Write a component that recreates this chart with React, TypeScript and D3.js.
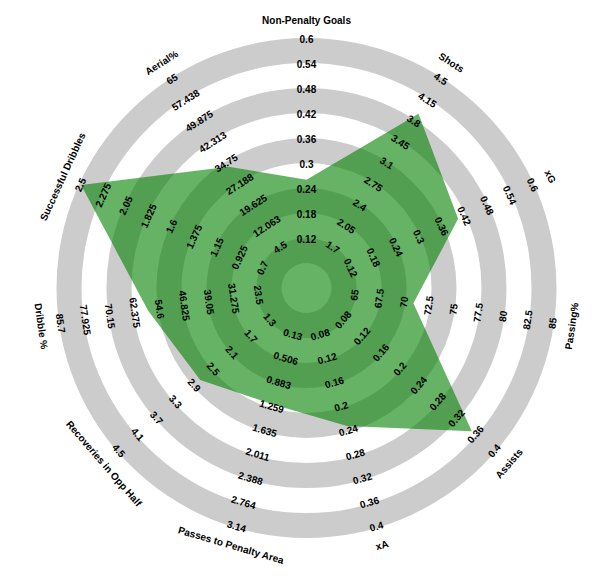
import React from "react";
import * as d3 from "d3";

// Radar parameters, clockwise from the top
const params = [
  "Non-Penalty Goals",
  "Shots",
  "xG",
  "Passing%",
  "Assists",
  "xA",
  "Passes to Penalty Area",
  "Recoveries in Opp Half",
  "Dribble %",
  "Successful Dribbles",
  "Aerial%",
];

// Range labels for each parameter (inner to outer)
const npgTicks = [0.12, 0.18, 0.24, 0.3, 0.36, 0.42, 0.48, 0.54, 0.6];
const shotsTicks = [1.7, 2.05, 2.4, 2.75, 3.1, 3.45, 3.8, 4.15, 4.5];
const xgTicks = [0.12, 0.18, 0.24, 0.3, 0.36, 0.42, 0.48, 0.54, 0.6];
const passingTicks = [65, 67.5, 70, 72.5, 75, 77.5, 80, 82.5, 85];
const assistsTicks = [0.08, 0.12, 0.16, 0.2, 0.24, 0.28, 0.32, 0.36, 0.4];
const xaTicks = [0.08, 0.12, 0.16, 0.2, 0.24, 0.28, 0.32, 0.36, 0.4];
const ppaTicks = [0.13, 0.506, 0.883, 1.259, 1.635, 2.011, 2.388, 2.764, 3.14];
const recoveriesTicks = [1.3, 1.7, 2.1, 2.5, 2.9, 3.3, 3.7, 4.1, 4.5];
const dribblePctTicks = [23.5, 31.275, 39.05, 46.825, 54.6, 62.375, 70.15, 77.925, 85.7];
const succDribblesTicks = [0.7, 0.925, 1.15, 1.375, 1.6, 1.825, 2.05, 2.275, 2.5];
const aerialTicks = [4.5, 12.063, 19.625, 27.188, 34.75, 42.313, 49.875, 57.438, 65];

const tickLists = [
  npgTicks,
  shotsTicks,
  xgTicks,
  passingTicks,
  assistsTicks,
  xaTicks,
  ppaTicks,
  recoveriesTicks,
  dribblePctTicks,
  succDribblesTicks,
  aerialTicks,
];

// Player values
const values = [0.26, 3.9, 0.4, 70.8, 0.35, 0.23, 1.2, 2.75, 57.7, 2.48, 33];

const WIDTH = 614;
const HEIGHT = 576;
const CX = 306.5;
const CY = 288;
const RING = 25; // ring width in px
const NUM_BANDS = 10; // center circle + 9 rings

const App: React.FC = () => {
  const n = params.length;
  const angle = (i: number) => (i * 360) / n; // degrees clockwise from top

  const scales = tickLists.map((t) =>
    d3
      .scaleLinear()
      .domain([t[0], t[t.length - 1]])
      .range([2 * RING, NUM_BANDS * RING])
      .clamp(true)
  );

  const toXY = (deg: number, r: number): [number, number] => {
    const a = (deg * Math.PI) / 180;
    return [CX + r * Math.sin(a), CY - r * Math.cos(a)];
  };

  const textRot = (deg: number) => (deg > 90 && deg < 270 ? deg - 180 : deg > 270 ? deg - 360 : deg);

  // gray rings
  const arc = d3.arc();
  const grayBands = d3.range(1, NUM_BANDS, 2).map((k) =>
    arc({
      innerRadius: k * RING,
      outerRadius: (k + 1) * RING,
      startAngle: 0,
      endAngle: 2 * Math.PI,
    }) as string
  );

  // radar polygon
  const pts = values.map((v, i) => toXY(angle(i), scales[i](v)));
  const polygon = d3.line().curve(d3.curveLinearClosed)(pts) as string;

  const fontFamily = "'Liberation Sans', Arial, sans-serif";

  return (
    <svg
      width={WIDTH}
      height={HEIGHT}
      style={{ position: "absolute", left: 0, top: 0, background: "#ffffff" }}
    >
      <g transform={`translate(${CX},${CY})`}>
        {grayBands.map((d, i) => (
          <path key={i} d={d} fill="#cccccc" />
        ))}
      </g>

      <path d={polygon} fill="green" fillOpacity={0.6} stroke="none" />

      {/* range labels */}
      {tickLists.map((ticks, i) =>
        ticks.map((t, j) => {
          const deg = angle(i);
          const [x, y] = toXY(deg, scales[i](t) - 1.5);
          return (
            <text
              key={`${i}-${j}`}
              x={x}
              y={y}
              transform={`rotate(${textRot(deg)},${x},${y})`}
              textAnchor="middle"
              dominantBaseline="central"
              fontFamily={fontFamily}
              fontWeight="bold"
              fontSize={10}
              fill="#000000"
            >
              {String(t)}
            </text>
          );
        })
      )}

      {/* parameter labels */}
      {params.map((p, i) => {
        const deg = angle(i);
        const [x, y] = toXY(deg, 268);
        return (
          <text
            key={p}
            x={x}
            y={y}
            transform={`rotate(${textRot(deg)},${x},${y})`}
            textAnchor="middle"
            dominantBaseline="central"
            fontFamily={fontFamily}
            fontWeight="bold"
            fontSize={10}
            fill="#000000"
          >
            {p}
          </text>
        );
      })}
    </svg>
  );
};

export default App;
